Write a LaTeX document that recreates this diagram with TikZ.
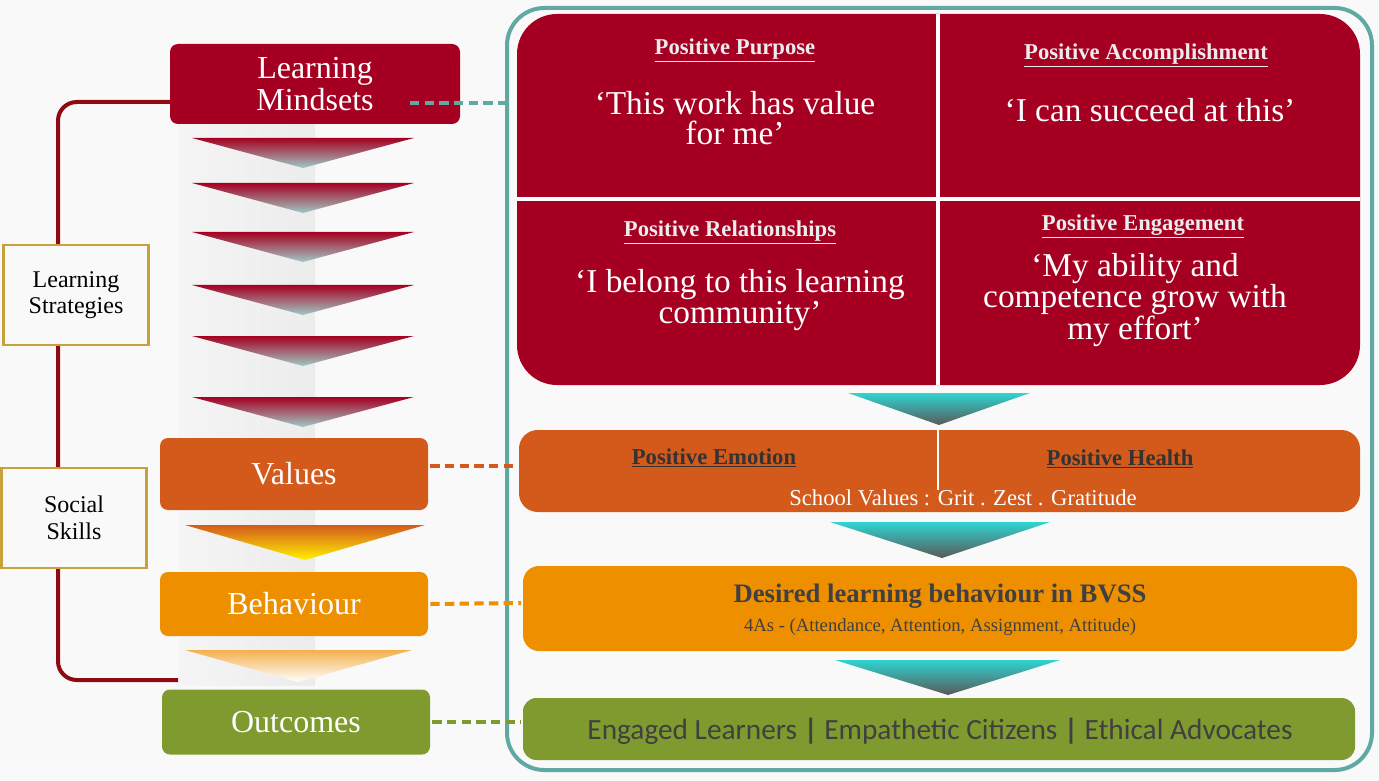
\documentclass[tikz,border=0pt]{standalone}
\usepackage{fontspec}
\setmainfont{Liberation Serif}
\newfontfamily\carl{Carlito}
\begin{document}
\definecolor{crim}{HTML}{A50021}
\definecolor{oran}{HTML}{D45A1C}
\definecolor{amb}{HTML}{EE8F00}
\definecolor{grn}{HTML}{7F9B2F}
\definecolor{tea}{HTML}{5FA9A2}
\definecolor{gold}{HTML}{C9A13A}
\definecolor{dred}{HTML}{8E0B12}
\begin{tikzpicture}[x=0.75pt,y=-0.75pt,
 lbox/.style={rounded corners=6pt,text=white,align=center,font=\fontsize{24}{24}\selectfont,inner sep=0pt},
 side/.style={draw=gold,line width=2pt,fill=white!95!gray,align=center,font=\fontsize{18}{20}\selectfont},
 conn/.style={line width=3pt,dash pattern=on 7pt off 4pt},
 ttl/.style={font=\bfseries\fontsize{17}{18}\selectfont,text=white!85!gray},
 quote/.style={text=white,align=center,font=\fontsize{25}{23}\selectfont}]
\fill[white!95!gray] (0,0) rectangle (1379,781);
\useasboundingbox (0,0) rectangle (1379,781);
\shade[left color=white!92!gray,right color=white!85!gray] (178,125) rectangle (315,685);
\draw[dred,line width=3pt,rounded corners=14pt] (172,102) -- (58,102) -- (58,680) -- (178,680);
\node[side,minimum width=145pt*0.75,minimum height=100pt*0.75] (ls) at (76,295) {Learning\\Strategies};
\node[side,minimum width=145pt*0.75,minimum height=100pt*0.75] (ss) at (74,518) {Social\\Skills};
\node[lbox,fill=crim,minimum width=290*0.75pt,minimum height=80*0.75pt] (lm) at (315,84) {Learning\\Mindsets};
\node[lbox,fill=oran,minimum width=268*0.75pt,minimum height=72*0.75pt] (va) at (294,474) {Values};
\node[lbox,fill=amb,minimum width=268*0.75pt,minimum height=64*0.75pt] (be) at (294,604) {Behaviour};
\node[lbox,fill=grn,minimum width=268*0.75pt,minimum height=65*0.75pt] (ou) at (296,722) {Outcomes};
\foreach \y in {138,183,232,285,336,397}{
 \shade[top color=crim,bottom color=tea!60] (192,\y) -- (414,\y) -- (303,\y+30) -- cycle;}
\shade[top color=oran,bottom color=yellow!90!orange] (185,525) -- (425,525) -- (305,560) -- cycle;
\shade[top color=amb!70,bottom color=white] (185,650) -- (412,650) -- (298,682) -- cycle;
\draw[tea,line width=3pt,rounded corners=28pt] (507,8) rectangle (1372,770);
\fill[crim,rounded corners=30pt] (517,14) rectangle (1360,385);
\draw[white,line width=3pt] (938,14) -- (938,385) (517,199) -- (1360,199);
\node[ttl] (t1) at (735,50) {\underline{Positive Purpose}};
\node[quote] (q1) at (735,118) {‘This work has value\\for me’};
\node[ttl] (t2) at (1146,55) {\underline{Positive Accomplishment}};
\node[quote] (q2) at (1150,110) {‘I can succeed at this’};
\node[ttl] (t3) at (730,232) {\underline{Positive Relationships}};
\node[quote] (q3) at (740,300) {‘I belong to this learning\\community’};
\node[ttl] (t4) at (1143,226) {\underline{Positive Engagement}};
\node[quote,font=\fontsize{25}{21}\selectfont] (q4) at (1135,300) {‘My ability and\\competence grow with\\my effort’};
\shade[top color=tea!50!cyan,bottom color=black!65] (848,393) -- (1030,393) -- (939,425) -- cycle;
\fill[oran,rounded corners=14pt] (519,430) rectangle (1360,512);
\draw[white,line width=2pt] (938,430) -- (938,490);
\node[font=\bfseries\fontsize{17}{18}\selectfont,text=black!80] (pe) at (714,458) {\underline{Positive Emotion}};
\node[font=\bfseries\fontsize{17}{18}\selectfont,text=black!80] (ph) at (1120,459) {\underline{Positive Health}};
\node[font=\fontsize{17}{18}\selectfont,text=white] (sv) at (963,498) {School Values : Grit . Zest . Gratitude};
\shade[top color=tea!50!cyan,bottom color=black!65] (830,522) -- (1050,522) -- (942,558) -- cycle;
\fill[amb,rounded corners=12pt] (523,566) rectangle (1357,651);
\node[font=\bfseries\fontsize{20}{22}\selectfont,text=black!75] (db) at (940,596) {Desired learning behaviour in BVSS};
\node[font=\fontsize{14}{16}\selectfont,text=black!75] (as) at (940,627) {4As - (Attendance, Attention, Assignment, Attitude)};
\shade[top color=tea!50!cyan,bottom color=black!65] (835,660) -- (1060,660) -- (948,695) -- cycle;
\fill[grn,rounded corners=10pt] (523,698) rectangle (1355,760);
\node[font=\carl\fontsize{22}{24}\selectfont,text=black!75] (el) at (940,731) {Engaged Learners \textbf{|} Empathetic Citizens \textbf{|} Ethical Advocates};
\coordinate (c1) at (505,103); \coordinate (c2) at (517,466);
\coordinate (c3) at (521,603); \coordinate (c4) at (521,722);
\draw[conn,tea] (410,103) -- (c1);
\draw[conn,oran] (va.east) ++(2,-8) -- (c2);
\draw[conn,amb] (be.east) ++(2,0) -- (c3);
\draw[conn,grn] (ou.east) ++(2,0) -- (c4);
\end{tikzpicture}
\end{document}
